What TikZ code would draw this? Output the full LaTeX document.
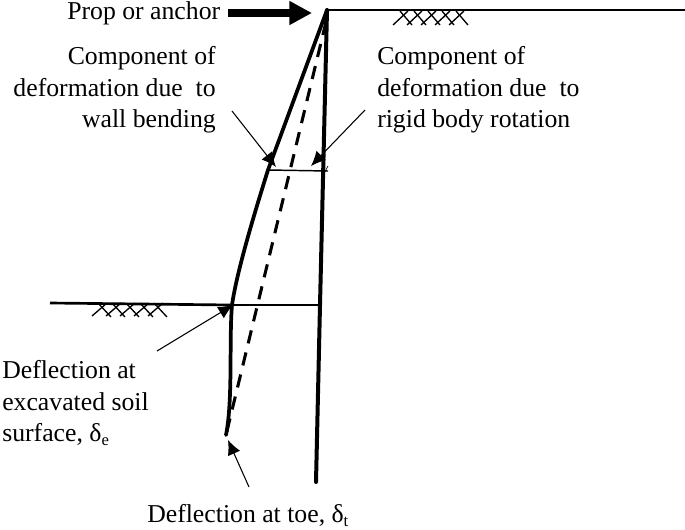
\documentclass[tikz,border=0pt]{standalone}
\usepackage{fontspec}
\setmainfont{Liberation Serif}
\usetikzlibrary{arrows.meta}
\newcommand{\subsc}[1]{\raisebox{-3.5pt}{\fontsize{12.5pt}{14pt}\selectfont #1}}
\begin{document}
\begin{tikzpicture}[x=0.75pt,y=-0.75pt,
  lbl/.style={font=\fontsize{19.3pt}{23.4pt}\selectfont,inner sep=0pt,align=left},
  wall/.style={line width=3pt,line cap=round,line join=round},
  soil/.style={line width=2pt},
  pointer/.style={line width=0.8pt,-{Latex[length=11pt,width=10pt]}},
  hatch/.style={line width=1pt}]
\useasboundingbox (0,0) rectangle (685,529);
\fill[white] (0,0) rectangle (685,529);
% named points
\coordinate (top) at (327,10);
\coordinate (toe) at (316,482);
\coordinate (wallmid) at (320,305);
\coordinate (gr) at (687,10);
\coordinate (gl) at (50,303);
\coordinate (tip) at (226,435);
\coordinate (bendpt) at (268,170);
\coordinate (surfpt) at (232,305);
\coordinate (bendr) at (328,171);
\coordinate (ticka) at (328,166);
\coordinate (tickb) at (322,177);
% ground and wall
\draw[soil] (top) -- (gr);
\draw[wall] (top) -- (wallmid) -- (toe);
\draw[soil] (gl) -- (surfpt);
\draw[line width=1.3pt] (surfpt) -- (wallmid);
\draw[line width=1.1pt] (bendpt) -- (bendr);
\draw[line width=0.5pt] (ticka) -- (tickb);
% deflected shape
\draw[line width=2.8pt,line cap=round] (top) -- (bendpt) .. controls (257,205) and (237,270) .. (surfpt) .. controls (229,340) and (233,400) .. (tip);
\draw[line width=2.3pt,dash pattern=on 10pt off 7pt] (326,22) -- (tip);
% hatching
\foreach \x in {393,407,421,435,449}{
  \draw[hatch] (\x,25) -- (\x+15,11);
  \draw[hatch] (\x+7,11) -- (\x+19,25);
}
\foreach \x in {92,106,120,134,148}{
  \draw[hatch] (\x,316) -- (\x+15,303);
  \draw[hatch] (\x+6,303) -- (\x+19,317);
}
% prop arrow
\coordinate (propfrom) at (228,13);
\coordinate (propto) at (312,13);
\draw[line width=6pt,-{Triangle[length=17pt,width=17pt]}] (propfrom) -- (propto);
% labels
\node[lbl,anchor=base west] (prop) at (67,19) {Prop or anchor};
\node[lbl,anchor=north east,align=right] (bendlbl) at (216,46.5) {Component of\\deformation due\ \ to\\wall bending};
\node[lbl,anchor=north west] (rigidlbl) at (377,46.5) {Component of\\deformation due\ \ to\\rigid body rotation};
\node[lbl,anchor=north west] (surflbl) at (2,360.5) {Deflection at\\excavated soil\\surface, δ\subsc{e}};
\node[lbl,anchor=base west] (toelbl) at (147,522) {Deflection at toe, δ\subsc{t}};
% pointers
\coordinate (p1) at (232,111);
\coordinate (p1t) at (276,167);
\coordinate (p2) at (365,110);
\coordinate (p2t) at (311,166);
\coordinate (p3) at (157,351);
\coordinate (p3t) at (233,305);
\coordinate (p4) at (249,487);
\coordinate (p4t) at (228,440);
\draw[pointer] (p1) -- (p1t);
\draw[pointer] (p2) -- (p2t);
\draw[pointer] (p3) -- (p3t);
\draw[pointer] (p4) -- (p4t);
\end{tikzpicture}
\end{document}
